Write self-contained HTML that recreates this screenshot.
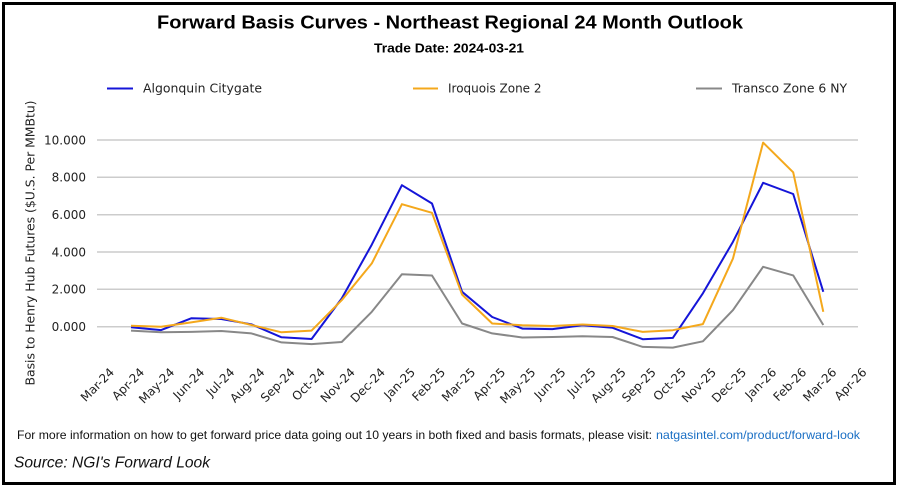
<!DOCTYPE html>
<html><head><meta charset="utf-8"><style>
html,body{margin:0;padding:0;background:#fff;}
svg{display:block;}
</style></head><body>
<svg width="900" height="490" viewBox="0 0 900 490" xmlns="http://www.w3.org/2000/svg">
<rect x="0" y="0" width="900" height="490" fill="#fff"/>
<rect x="3.5" y="3.5" width="891" height="480" fill="#fff" stroke="#000" stroke-width="3"/>

<text x="450" y="28.5" text-anchor="middle" font-family="Liberation Sans, Arial, sans-serif" font-weight="bold" font-size="18" textLength="586" lengthAdjust="spacingAndGlyphs" fill="#000">Forward Basis Curves - Northeast Regional 24 Month Outlook</text>
<text x="449" y="52.5" text-anchor="middle" font-family="Liberation Sans, Arial, sans-serif" font-weight="bold" font-size="13" textLength="150" lengthAdjust="spacingAndGlyphs" fill="#000">Trade Date: 2024-03-21</text>

<g font-family="DejaVu Sans, sans-serif" font-size="12" fill="#222">
<line x1="107" y1="88.5" x2="133" y2="88.5" stroke="#1515d8" stroke-width="2"/>
<text x="143" y="92.5" textLength="119" lengthAdjust="spacingAndGlyphs">Algonquin Citygate</text>
<line x1="413" y1="88.5" x2="438" y2="88.5" stroke="#f4a81c" stroke-width="2"/>
<text x="448" y="92.5">Iroquois Zone 2</text>
<line x1="696" y1="88.5" x2="722" y2="88.5" stroke="#888" stroke-width="2"/>
<text x="732" y="92.5" textLength="115" lengthAdjust="spacingAndGlyphs">Transco Zone 6 NY</text>
</g>

<text transform="translate(34.5,243) rotate(-90)" text-anchor="middle" font-family="DejaVu Sans, sans-serif" font-size="12" fill="#222" textLength="285" lengthAdjust="spacingAndGlyphs">Basis to Henry Hub Futures ($U.S. Per MMBtu)</text>

<g stroke="#cccccc" stroke-width="1.5">
<line x1="97" y1="140" x2="858" y2="140"/>
<line x1="97" y1="177.3" x2="858" y2="177.3"/>
<line x1="97" y1="214.7" x2="858" y2="214.7"/>
<line x1="97" y1="252" x2="858" y2="252"/>
<line x1="97" y1="289.3" x2="858" y2="289.3"/>
<line x1="97" y1="326.7" x2="858" y2="326.7"/>
</g>
<g font-family="DejaVu Sans, sans-serif" font-size="12" fill="#222" text-anchor="end">
<text x="86" y="144.3">10.000</text>
<text x="86" y="181.6">8.000</text>
<text x="86" y="219">6.000</text>
<text x="86" y="256.3">4.000</text>
<text x="86" y="293.6">2.000</text>
<text x="86" y="331">0.000</text>
</g>

<g font-family="DejaVu Sans, sans-serif" font-size="12" fill="#222" text-anchor="end">
<text transform="translate(114.9,373) rotate(-45)">Mar-24</text>
<text transform="translate(145,373) rotate(-45)">Apr-24</text>
<text transform="translate(175.1,373) rotate(-45)">May-24</text>
<text transform="translate(205.2,373) rotate(-45)">Jun-24</text>
<text transform="translate(235.3,373) rotate(-45)">Jul-24</text>
<text transform="translate(265.4,373) rotate(-45)">Aug-24</text>
<text transform="translate(295.5,373) rotate(-45)">Sep-24</text>
<text transform="translate(325.6,373) rotate(-45)">Oct-24</text>
<text transform="translate(355.7,373) rotate(-45)">Nov-24</text>
<text transform="translate(385.8,373) rotate(-45)">Dec-24</text>
<text transform="translate(415.9,373) rotate(-45)">Jan-25</text>
<text transform="translate(446,373) rotate(-45)">Feb-25</text>
<text transform="translate(476.1,373) rotate(-45)">Mar-25</text>
<text transform="translate(506.2,373) rotate(-45)">Apr-25</text>
<text transform="translate(536.3,373) rotate(-45)">May-25</text>
<text transform="translate(566.4,373) rotate(-45)">Jun-25</text>
<text transform="translate(596.5,373) rotate(-45)">Jul-25</text>
<text transform="translate(626.6,373) rotate(-45)">Aug-25</text>
<text transform="translate(656.7,373) rotate(-45)">Sep-25</text>
<text transform="translate(686.8,373) rotate(-45)">Oct-25</text>
<text transform="translate(716.9,373) rotate(-45)">Nov-25</text>
<text transform="translate(747,373) rotate(-45)">Dec-25</text>
<text transform="translate(777.1,373) rotate(-45)">Jan-26</text>
<text transform="translate(807.2,373) rotate(-45)">Feb-26</text>
<text transform="translate(837.3,373) rotate(-45)">Mar-26</text>
<text transform="translate(867.4,373) rotate(-45)">Apr-26</text>
</g>

<g fill="none" stroke-width="2" stroke-linejoin="round">
<polyline stroke="#888888" points="131,330.6 161.1,332.3 191.2,331.9 221.3,331 251.4,333.4 281.5,342.4 311.6,344.1 341.7,342 371.8,311.8 401.9,274.2 432,275.5 462.1,323.5 492.2,333.4 522.3,337.5 552.4,337 582.5,336.2 612.6,337 642.7,346.9 672.8,347.6 702.9,341.3 733,310.1 763.1,266.8 793.2,275.4 823.3,325"/>
<polyline stroke="#1515d8" points="131,327.3 161.1,330.1 191.2,318.3 221.3,319 251.4,324.3 281.5,337.3 311.6,339 341.7,298.5 371.8,244.6 401.9,185.2 432,203.5 462.1,291.8 492.2,317 522.3,328.6 552.4,329.1 582.5,325.2 612.6,327.8 642.7,339.2 672.8,337.9 702.9,293.3 733,241.7 763.1,182.8 793.2,194 823.3,291.8"/>
<polyline stroke="#f4a81c" points="131,325.8 161.1,326.7 191.2,322.4 221.3,317.7 251.4,325 281.5,332.3 311.6,330.6 341.7,300.2 371.8,263.4 401.9,204.2 432,212.8 462.1,294.6 492.2,323.5 522.3,325.2 552.4,326 582.5,324.5 612.6,326 642.7,331.9 672.8,330.2 702.9,324.1 733,258.4 763.1,142.6 793.2,172.3 823.3,311.8"/>
</g>

<text x="17" y="439" font-family="Liberation Sans, Arial, sans-serif" font-size="12" fill="#111" textLength="635" lengthAdjust="spacingAndGlyphs">For more information on how to get forward price data going out 10 years in both fixed and basis formats, please visit:</text>
<text x="656" y="439" font-family="Liberation Sans, Arial, sans-serif" font-size="12" fill="#1a6fc4" textLength="204" lengthAdjust="spacingAndGlyphs">natgasintel.com/product/forward-look</text>
<text x="14" y="467.5" font-family="Liberation Sans, Arial, sans-serif" font-size="16" font-style="italic" fill="#111" textLength="196" lengthAdjust="spacingAndGlyphs">Source: NGI's Forward Look</text>
</svg>
</body></html>
